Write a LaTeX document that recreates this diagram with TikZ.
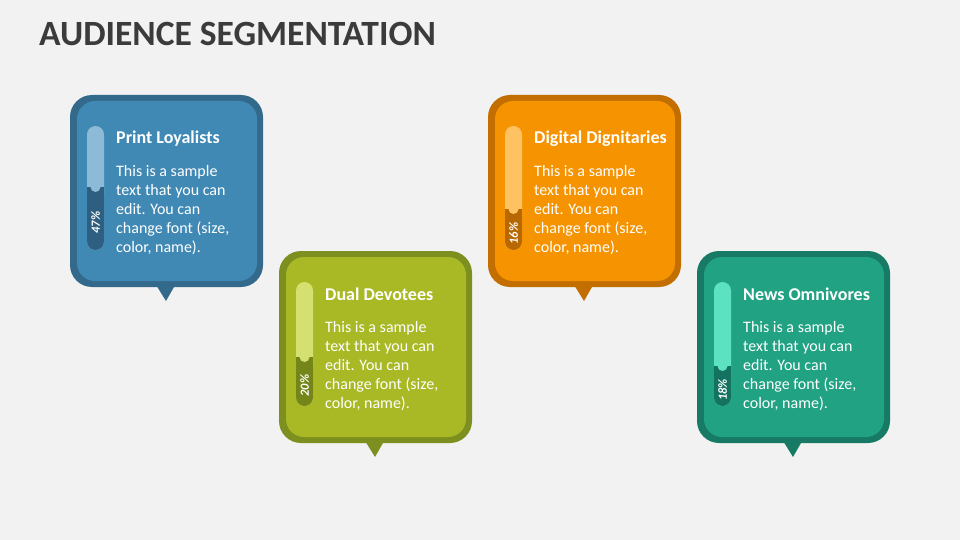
\documentclass[tikz,border=0pt]{standalone}
\usepackage{fontspec}
\setmainfont{Carlito}
\definecolor{bg}{HTML}{F2F2F2}
\definecolor{ttl}{HTML}{3B3B3B}
\definecolor{bO}{HTML}{33698A}\definecolor{bI}{HTML}{3F89B4}\definecolor{bL}{HTML}{8DBBD7}\definecolor{bD}{HTML}{2F5F80}
\definecolor{gO}{HTML}{7D8F1E}\definecolor{gI}{HTML}{A8B925}\definecolor{gL}{HTML}{D4E070}\definecolor{gD}{HTML}{74861A}
\definecolor{oO}{HTML}{C26E00}\definecolor{oI}{HTML}{F59300}\definecolor{oL}{HTML}{FFC262}\definecolor{oD}{HTML}{B86800}
\definecolor{tO}{HTML}{167A64}\definecolor{tI}{HTML}{20A283}\definecolor{tL}{HTML}{5DE2C1}\definecolor{tD}{HTML}{137260}
\tikzset{
 ttlstyle/.style={anchor=west,font=\bfseries\fontsize{18}{19}\selectfont,text=white,inner sep=0},
 bodystyle/.style={anchor=west,align=left,font=\fontsize{16}{19}\selectfont,text=white,inner sep=0},
 pctstyle/.style={rotate=90,font=\bfseries\itshape\fontsize{12.5}{13}\selectfont,text=white,inner sep=0}
}
\newcommand{\card}[9]{% x,y,outer,inner,light,dark,circle rel y,title,pct
 \begin{scope}[shift={(#1,#2)}]
  \fill[#3] (83,185) -- (108,185) -- (96,206) -- cycle;
  \fill[#3,rounded corners=22pt] (0,0) rectangle (193,192);
  \fill[#4,rounded corners=18pt] (7,6) rectangle (187,186);
  \fill[#5,rounded corners=8.5pt] (17,31) rectangle (34,155);
  \fill[#6,rounded corners=8.5pt] (17,#7) rectangle (34,155);
  \fill[#6] (17,#7) rectangle (34,{#7+10});
  \fill[#5] (25.5,#7) circle (5);
  \node[pctstyle] (p#9) at (25.5,{(#7+155)/2+4}) {#9\%};
  \node[ttlstyle] (t#9) at (46,43.5) {#8};
  \node[bodystyle] (b#9) at (46,115) {This is a sample\\text that you can\\edit. You can\\change font (size,\\color, name).};
 \end{scope}}
\begin{document}
\begin{tikzpicture}[x=1pt,y=-1pt]
\fill[bg] (0,0) rectangle (960,540);
\useasboundingbox (0,0) rectangle (960,540);
\node[anchor=west,inner sep=0,font=\bfseries\fontsize{35.5}{38}\selectfont,text=ttl] (title) at (39,34) {AUDIENCE SEGMENTATION};
\card{70}{95}{bO}{bI}{bL}{bD}{92}{Print Loyalists}{47}
\card{279}{251}{gO}{gI}{gL}{gD}{106}{Dual Devotees}{20}
\card{488}{95}{oO}{oI}{oL}{oD}{114}{Digital Dignitaries}{16}
\card{697}{251}{tO}{tI}{tL}{tD}{115}{News Omnivores}{18}
\end{tikzpicture}
\end{document}
